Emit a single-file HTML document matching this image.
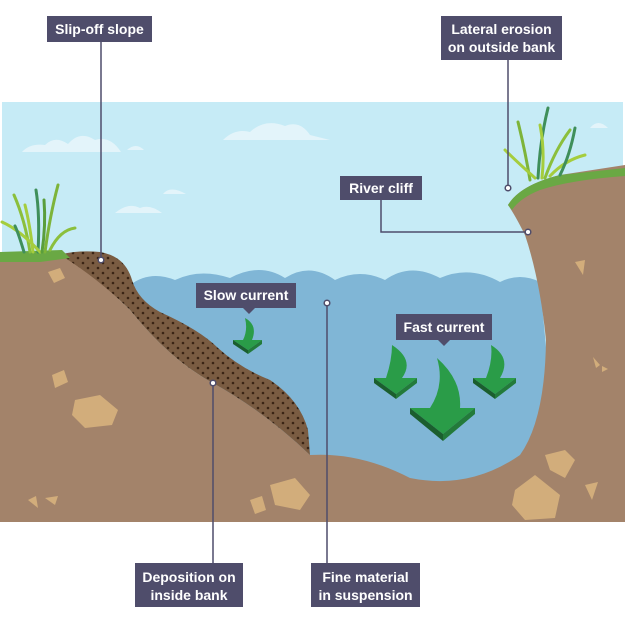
<!DOCTYPE html>
<html><head><meta charset="utf-8"><style>
body{margin:0;background:#fff;}
svg{display:block}
text{font-family:"Liberation Sans",sans-serif;font-weight:bold;font-size:14px;fill:#fff}
</style></head><body>
<svg width="625" height="624" viewBox="0 0 625 624" xmlns="http://www.w3.org/2000/svg">
<defs>
<pattern id="dots" width="10" height="10" patternUnits="userSpaceOnUse">
<rect width="10" height="10" fill="#7a5c42"/><circle cx="3" cy="3" r="1.3" fill="#3a2414"/><circle cx="8" cy="8" r="1.3" fill="#3a2414"/>
</pattern>
</defs>
<rect x="2" y="102" width="621" height="420" fill="#c6ebf6"/>
<g fill="#e3f4fa">
<path d="M22,152 Q30,143 45,145 Q55,135 68,144 Q80,130 95,140 Q110,135 121,152Z"/>
<path d="M127,150 Q136,142 144,150Z"/>
<path d="M223,140 Q235,128 250,132 Q265,118 285,126 Q300,120 310,135 L330,140 L223,140Z"/>
<path d="M163,194 Q170,185 186,194Z"/>
<path d="M115,213 Q128,202 140,208 Q150,204 162,213Z"/>
<path d="M590,128 Q598,118 608,128Z"/>
</g>
<!-- water -->
<path d="M130,285 Q150,270 175,280 Q200,268 230,278 Q260,262 285,278 Q310,262 335,280 Q360,268 385,280 Q410,262 440,278 Q470,265 500,282 Q520,272 540,282 L560,500 L300,500 Z" fill="#80b6d6"/>
<!-- ground -->
<path d="M0,257 L62,252 Q100,280 130,310 Q170,360 213,383 Q265,412 310,455 Q360,452 410,478 Q470,490 520,455 Q545,420 546,340 Q540,280 525,235 Q515,215 508,205 Q520,185 560,175 L625,165 L625,522 L0,522 Z" fill="#a3836a"/>
<!-- deposit -->
<path d="M62,254 Q80,250 100,252 Q125,256 132,280 Q138,300 160,312 Q200,330 218,348 Q240,368 270,380 Q300,400 308,430 L310,455 Q265,412 213,383 Q170,360 130,310 Q100,280 62,256Z" fill="url(#dots)"/>
<!-- grass -->
<path d="M0,252 L62,250 L70,258 L40,262 L0,262Z" fill="#6aa844"/>
<path d="M508,205 Q520,185 560,175 L625,168 L625,176 Q570,180 540,190 Q520,198 512,210Z" fill="#6aa844"/>
<g stroke-linecap="round" fill="none" stroke-width="3">
<path d="M30,252 Q25,220 14,195" stroke="#8bbf3c"/><path d="M38,252 Q40,215 36,190" stroke="#3f8f5a"/>
<path d="M45,252 Q50,215 58,185" stroke="#7db43a"/><path d="M40,252 Q20,230 2,222" stroke="#a5cd3d"/>
<path d="M50,250 Q60,230 75,228" stroke="#8bbf3c"/><path d="M24,252 Q18,232 15,226" stroke="#3f8f5a"/>
<path d="M33,252 Q30,225 25,205" stroke="#a5cd3d"/><path d="M42,252 Q46,225 44,200" stroke="#5a9e3c"/>
<path d="M530,180 Q525,150 518,122" stroke="#7db43a"/><path d="M538,178 Q540,140 548,108" stroke="#3f8f5a"/>
<path d="M545,178 Q555,150 570,130" stroke="#8bbf3c"/><path d="M550,176 Q565,160 585,155" stroke="#a5cd3d"/>
<path d="M535,178 Q515,160 505,150" stroke="#a5cd3d"/><path d="M560,175 Q570,155 575,128" stroke="#3f8f5a"/>
<path d="M542,178 Q545,150 540,125" stroke="#a5cd3d"/>
</g>
<!-- rocks -->
<g fill="#d2ad7b">
<path d="M48,272 L60,268 L65,278 L54,283Z"/>
<path d="M52,375 L64,370 L68,382 L55,388Z"/>
<path d="M75,400 L100,395 L118,410 L112,425 L85,428 L72,415Z"/>
<path d="M270,485 L295,478 L310,495 L300,510 L275,505Z"/>
<path d="M250,500 L262,496 L266,510 L255,514Z"/>
<path d="M28,500 L36,496 L38,508Z"/><path d="M45,498 L58,496 L55,505Z"/>
<path d="M515,490 L535,475 L560,495 L555,518 L525,520 L512,505Z"/>
<path d="M545,455 L565,450 L575,460 L565,478 L550,470Z"/>
<path d="M585,485 L598,482 L592,500Z"/>
<path d="M575,262 L585,260 L583,275Z"/>
<path d="M593,357 L600,365 L596,368Z"/><path d="M602,366 L608,369 L602,372Z"/>
</g>
<!-- arrows -->
<g>
<path d="M392,345 Q415,360 402,378 L417,378 L396,394 L374,378 L386,378 Q392,360 392,345Z" fill="#2a9c48"/>
<path d="M374,378 L396,394 L396,399 L374,383Z" fill="#1b5e2e"/><path d="M396,394 L417,378 L417,383 L396,399Z" fill="#237a3a"/>
<path d="M491,345 Q512,358 500,378 L516,378 L495,394 L473,378 L486,378 Q493,360 491,345Z" fill="#2a9c48"/>
<path d="M473,378 L495,394 L495,399 L473,383Z" fill="#1b5e2e"/><path d="M495,394 L516,378 L516,383 L495,399Z" fill="#237a3a"/>
<path d="M437,358 Q462,380 460,408 L475,408 L443,434 L410,408 L430,408 Q445,385 437,358Z" fill="#2a9c48"/>
<path d="M410,408 L443,434 L443,441 L410,414Z" fill="#1b5e2e"/><path d="M443,434 L475,408 L475,414 L443,441Z" fill="#237a3a"/>
<path d="M245,318 Q258,325 252,340 L262,340 L248,350 L233,340 L243,340 Q248,330 245,318Z" fill="#2a9c48"/>
<path d="M233,340 L248,350 L248,354 L233,344Z" fill="#1b5e2e"/><path d="M248,350 L262,340 L262,344 L248,354Z" fill="#237a3a"/>
</g>
<!-- lines -->
<g stroke="#4f4d6b" stroke-width="1.5" fill="none">
<path d="M101,42 V260"/><path d="M508,60 V188"/><path d="M381,200 V232 H528"/>
<path d="M213,383 V563"/><path d="M327,303 V563"/>
</g>
<g fill="#fff" stroke="#4f4d6b" stroke-width="1.5">
<circle cx="101" cy="260" r="2.8"/><circle cx="508" cy="188" r="2.8"/><circle cx="528" cy="232" r="2.8"/>
<circle cx="213" cy="383" r="2.8"/><circle cx="327" cy="303" r="2.8"/>
</g>
<!-- labels -->
<g fill="#4f4d6b">
<rect x="47" y="16" width="105" height="26"/>
<rect x="441" y="16" width="121" height="44"/>
<rect x="340" y="176" width="82" height="24"/>
<rect x="196" y="283" width="100" height="25"/><path d="M243,308 L249,314 L255,308Z"/>
<rect x="396" y="314" width="96" height="26"/><path d="M438,340 L444,346 L450,340Z"/>
<rect x="135" y="563" width="108" height="44"/>
<rect x="311" y="563" width="109" height="44"/>
</g>
<text x="99.5" y="34" text-anchor="middle">Slip-off slope</text>
<text x="501.5" y="34" text-anchor="middle">Lateral erosion</text>
<text x="501.5" y="52" text-anchor="middle">on outside bank</text>
<text x="381" y="193" text-anchor="middle">River cliff</text>
<text x="246" y="300" text-anchor="middle">Slow current</text>
<text x="444" y="332" text-anchor="middle">Fast current</text>
<text x="189" y="582" text-anchor="middle">Deposition on</text>
<text x="189" y="600" text-anchor="middle">inside bank</text>
<text x="365.5" y="582" text-anchor="middle">Fine material</text>
<text x="365.5" y="600" text-anchor="middle">in suspension</text>
</svg>
</body></html>
